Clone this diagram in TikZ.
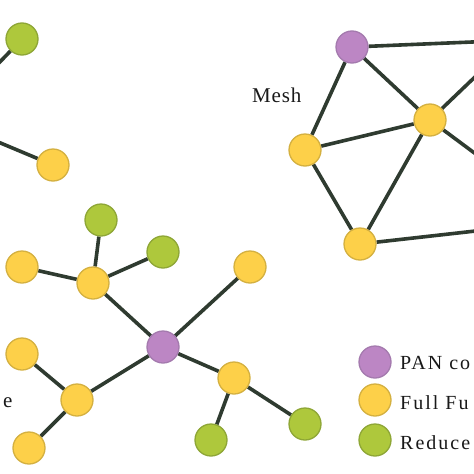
\documentclass[tikz,border=0pt]{standalone}
\usepackage{fontspec}
\usetikzlibrary{backgrounds}
\setmainfont{Liberation Serif}
\newfontfamily\lblfont[LetterSpace=4]{Liberation Serif}
\newfontfamily\legfont[LetterSpace=10]{Liberation Serif}
\definecolor{panfill}{HTML}{BC86C4}
\definecolor{pandraw}{HTML}{A47AAE}
\definecolor{fffill}{HTML}{FDD049}
\definecolor{ffdraw}{HTML}{D4B040}
\definecolor{rffill}{HTML}{AEC83C}
\definecolor{rfdraw}{HTML}{8EA636}
\definecolor{edgecol}{HTML}{2F3B30}
\tikzset{
  dev/.style={circle, minimum size=32pt, inner sep=0pt, line width=1.3pt},
  pan/.style={dev, fill=panfill, draw=pandraw},
  ffd/.style={dev, fill=fffill, draw=ffdraw},
  rfd/.style={dev, fill=rffill, draw=rfdraw},
  link/.style={draw=edgecol, line width=3.6pt},
  lbl/.style={font=\lblfont\fontsize{21pt}{24pt}\selectfont, inner sep=0pt, text=black!90},
  leg/.style={font=\legfont\fontsize{20pt}{24pt}\selectfont, inner sep=0pt, text=black!90}
}
\begin{document}
\begin{tikzpicture}[x=1pt,y=-1pt]
\useasboundingbox (0,0) rectangle (474,474);
\clip (0,0) rectangle (474,474);

% off-image coordinates
\coordinate (o1) at (-30,93);
\coordinate (o2) at (-40,126);
\coordinate (o3) at (520,40);
\coordinate (o4) at (500,53);
\coordinate (o5) at (500,172);
\coordinate (o6) at (520,226);

% top-left fragment
\node[rfd] (g1) at (22,39) {};
\node[ffd] (y1) at (53,165) {};

% mesh
\node[pan] (mp) at (352,47) {};
\node[ffd] (m1) at (430,120) {};
\node[ffd] (m2) at (305,150) {};
\node[ffd] (m3) at (360,244) {};
\node[lbl, anchor=base west] (mesh) at (252,102) {Mesh};

% star / tree
\node[pan] (sp) at (163,347) {};
\node[ffd] (s1) at (93,283) {};
\node[ffd] (s2) at (22,267) {};
\node[rfd] (s3) at (163,252) {};
\node[rfd] (s4) at (101,220) {};
\node[ffd] (s5) at (250,267) {};
\node[ffd] (s6) at (77,400) {};
\node[ffd] (s7) at (22,354) {};
\node[ffd] (s8) at (29,448) {};
\node[ffd] (s9) at (234,378) {};
\node[rfd] (s10) at (211,440) {};
\node[rfd] (s11) at (305,424) {};
\node[lbl, anchor=base west] (tlabel) at (3,407) {e};

% legend
\node[pan] (lp) at (375,362) {};
\node[ffd] (lf) at (375,400) {};
\node[rfd] (lr) at (375,440) {};
\node[leg, anchor=base west] (tp) at (400,369) {PAN co};
\node[leg, anchor=base west] (tf) at (400,409) {Full Fu};
\node[leg, anchor=base west] (tr) at (400,449) {Reduce};

\begin{scope}[on background layer]
\fill[white] (0,0) rectangle (474,474);
\draw[link] (g1) -- (o1);
\draw[link] (y1) -- (o2);
\draw[link] (mp) -- (o3);
\draw[link] (mp) -- (m1);
\draw[link] (mp) -- (m2);
\draw[link] (m1) -- (o4);
\draw[link] (m1) -- (o5);
\draw[link] (m2) -- (m1);
\draw[link] (m2) -- (m3);
\draw[link] (m1) -- (m3);
\draw[link] (m3) -- (o6);
\draw[link] (sp) -- (s1);
\draw[link] (sp) -- (s5);
\draw[link] (sp) -- (s6);
\draw[link] (sp) -- (s9);
\draw[link] (s1) -- (s2);
\draw[link] (s1) -- (s3);
\draw[link] (s1) -- (s4);
\draw[link] (s6) -- (s7);
\draw[link] (s6) -- (s8);
\draw[link] (s9) -- (s10);
\draw[link] (s9) -- (s11);
\end{scope}
\end{tikzpicture}
\end{document}
